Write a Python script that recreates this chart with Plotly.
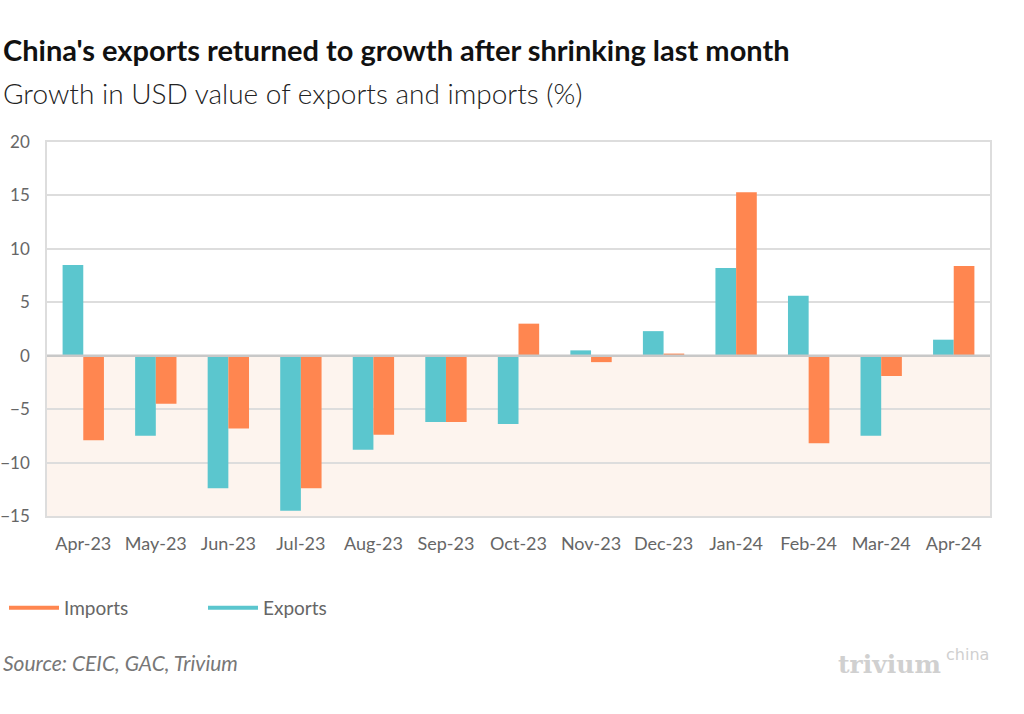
import plotly.graph_objects as go

months = ["Apr-23", "May-23", "Jun-23", "Jul-23", "Aug-23", "Sep-23", "Oct-23",
          "Nov-23", "Dec-23", "Jan-24", "Feb-24", "Mar-24", "Apr-24"]
exports = [8.5, -7.5, -12.4, -14.5, -8.8, -6.2, -6.4, 0.5, 2.3, 8.2, 5.6, -7.5, 1.5]
imports = [-7.9, -4.5, -6.8, -12.4, -7.4, -6.2, 3.0, -0.6, 0.2, 15.3, -8.2, -1.9, 8.4]
y_ticks = [-15, -10, -5, 0, 5, 10, 15, 20]

EXP_C = "#5BC6CE"
IMP_C = "#FF8650"
FONT = "Lato"

L, R, T, B = 47, 34, 142, 198
W, H = 1024, 714
pw, ph = W - L - R, H - T - B


def px(x):
    return (x - L) / pw


def py(y):
    return (H - B - y) / ph


fig = go.Figure()
fig.add_trace(go.Bar(x=months, y=exports, name="Exports", marker=dict(color=EXP_C, line=dict(width=0)),
                     showlegend=False))
fig.add_trace(go.Bar(x=months, y=imports, name="Imports", marker=dict(color=IMP_C, line=dict(width=0)),
                     showlegend=False))
# legend entries drawn as lines
fig.add_trace(go.Scatter(x=[months[0]], y=[None], mode="lines", name="Imports",
                         line=dict(color=IMP_C, width=4), legendrank=1))
fig.add_trace(go.Scatter(x=[months[0]], y=[None], mode="lines", name="Exports",
                         line=dict(color=EXP_C, width=4), legendrank=2))

fig.add_shape(type="rect", xref="paper", yref="y", x0=0, x1=1, y0=-15, y1=0,
              fillcolor="#FDF4EE", line=dict(width=0), layer="below")
fig.add_shape(type="line", xref="paper", yref="y", x0=0, x1=1, y0=0, y1=0,
              line=dict(color="#C8C8C8", width=2.5), layer="above")

fig.update_layout(
    width=W, height=H,
    margin=dict(l=L, r=R, t=T, b=B, autoexpand=False),
    paper_bgcolor="white", plot_bgcolor="white",
    barmode="group", bargap=0.43, bargroupgap=0,
    font=dict(family=FONT, color="#666666", size=16),
    showlegend=True,
    legend=dict(orientation="h", x=px(4), y=py(608), yanchor="middle", xanchor="left",
                font=dict(size=19, color="#666666", family=FONT),
                entrywidth=134, entrywidthmode="pixels",
                itemwidth=50, bgcolor="rgba(0,0,0,0)"),
    xaxis=dict(showgrid=False, showline=True, mirror=True, linecolor="#DDDDDD", linewidth=1.5,
               ticks="", ticklabelstandoff=11, tickfont=dict(size=18, color="#666666"),
               automargin=False, fixedrange=True),
    yaxis=dict(range=[-15, 20], tickvals=y_ticks, showgrid=True, gridcolor="#DDDDDD", gridwidth=1.5,
               showline=True, mirror=True, linecolor="#DDDDDD", linewidth=1.5,
               zeroline=False, ticks="", ticklabelstandoff=12, automargin=False,
               tickfont=dict(size=17, color="#666666"), fixedrange=True),
    annotations=[
        dict(text="<b>China's exports returned to growth after shrinking last month</b>",
             xref="paper", yref="paper", x=px(1), y=py(50), xanchor="left", yanchor="middle",
             showarrow=False, font=dict(size=29, color="#111111", family=FONT)),
        dict(text="Growth in USD value of exports and imports (%)",
             xref="paper", yref="paper", x=px(1), y=py(93), xanchor="left", yanchor="middle",
             showarrow=False, font=dict(size=28, color="#222222", family=FONT, weight=300)),
        dict(text="<i>Source: CEIC, GAC, Trivium</i>",
             xref="paper", yref="paper", x=px(1), y=py(662), xanchor="left", yanchor="middle",
             showarrow=False, font=dict(size=21, color="#777777", family=FONT)),
        dict(text="<b>trivium</b>",
             xref="paper", yref="paper", x=px(943), y=py(664), xanchor="right", yanchor="middle",
             showarrow=False, font=dict(size=25, color="#D0D0D0", family="DejaVu Serif")),
        dict(text="china",
             xref="paper", yref="paper", x=px(944), y=py(654), xanchor="left", yanchor="middle",
             showarrow=False, font=dict(size=16, color="#D0D0D0", family="DejaVu Sans")),
    ],
)

fig.write_html("out.html")
